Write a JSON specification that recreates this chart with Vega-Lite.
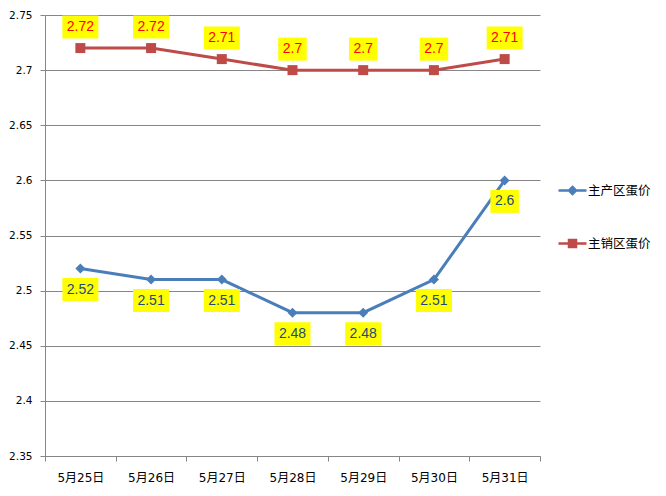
{
  "$schema": "https://vega.github.io/schema/vega-lite/v6.json",
  "width": 495,
  "height": 441,
  "autosize": {"type": "none"},
  "padding": {"left": 45, "top": 15, "right": 126, "bottom": 40},
  "background": "white",
  "config": {
    "view": {"stroke": null},
    "axis": {
      "domainColor": "#868686",
      "tickColor": "#868686",
      "gridColor": "#868686",
      "labelColor": "#000000",
      "tickSize": 5,
      "title": null
    }
  },
  "data": {
    "values": [
      {"date": "5月25日", "series": "主产区蛋价", "value": 2.52},
      {"date": "5月26日", "series": "主产区蛋价", "value": 2.51},
      {"date": "5月27日", "series": "主产区蛋价", "value": 2.51},
      {"date": "5月28日", "series": "主产区蛋价", "value": 2.48},
      {"date": "5月29日", "series": "主产区蛋价", "value": 2.48},
      {"date": "5月30日", "series": "主产区蛋价", "value": 2.51},
      {"date": "5月31日", "series": "主产区蛋价", "value": 2.6},
      {"date": "5月25日", "series": "主销区蛋价", "value": 2.72},
      {"date": "5月26日", "series": "主销区蛋价", "value": 2.72},
      {"date": "5月27日", "series": "主销区蛋价", "value": 2.71},
      {"date": "5月28日", "series": "主销区蛋价", "value": 2.7},
      {"date": "5月29日", "series": "主销区蛋价", "value": 2.7},
      {"date": "5月30日", "series": "主销区蛋价", "value": 2.7},
      {"date": "5月31日", "series": "主销区蛋价", "value": 2.71}
    ]
  },
  "encoding": {
    "x": {
      "field": "date",
      "type": "ordinal",
      "sort": null,
      "scale": {"type": "band", "paddingInner": 0, "paddingOuter": 0},
      "axis": {
        "labelAngle": 0,
        "tickBand": "extent",
        "labelFont": "DejaVu Sans, Noto Sans CJK SC",
        "labelFontSize": 12,
        "labelPadding": 11,
        "grid": false
      }
    },
    "y": {
      "field": "value",
      "type": "quantitative",
      "scale": {"domain": [2.35, 2.75], "nice": false, "zero": false},
      "axis": {
        "values": [2.35, 2.4, 2.45, 2.5, 2.55, 2.6, 2.65, 2.7, 2.75],
        "format": "~g",
        "labelFont": "DejaVu Sans",
        "labelFontSize": 10.5,
        "labelPadding": 8,
        "grid": true
      }
    },
    "color": {
      "field": "series",
      "type": "nominal",
      "scale": {"domain": ["主产区蛋价", "主销区蛋价"], "range": ["#4A7EBB", "#BE4B48"]},
      "legend": {
        "orient": "none",
        "legendX": 512,
        "legendY": 160,
        "title": null,
        "padding": 0,
        "symbolSize": 784,
        "rowPadding": 29,
        "labelOffset": 0,
        "labelFont": "Noto Sans CJK SC",
        "labelFontSize": 12.5,
        "labelColor": "#000000",
        "encode": {
          "symbols": {
            "update": {
              "fill": {"scale": "color", "field": "value"},
              "stroke": {"scale": "color", "field": "value"},
              "strokeWidth": {"value": 2.5},
              "opacity": {"value": 1},
              "fillOpacity": {"value": 1},
              "strokeOpacity": {"value": 1},
              "size": {"value": 784}
            }
          }
        }
      }
    }
  },
  "layer": [
    {
      "mark": {"type": "line", "strokeWidth": 3},
      "encoding": {}
    },
    {
      "transform": [{"filter": "datum.series == '主产区蛋价'"}],
      "mark": {"type": "point", "shape": "diamond", "size": 100, "filled": true, "opacity": 1}
    },
    {
      "transform": [{"filter": "datum.series == '主销区蛋价'"}],
      "mark": {"type": "point", "shape": "square", "size": 100, "filled": true, "opacity": 1}
    },
    {
      "transform": [{"filter": "datum.series == '主销区蛋价'"}],
      "mark": {"type": "point", "filled": true, "opacity": 1, "fill": "#FFFF00", "yOffset": -21},
      "encoding": {
        "color": {"value": "#FFFF00"},
        "shape": {
          "condition": {"test": "round(datum.value*100) % 10 == 0", "value": "M-1,-0.807H1V0.807H-1Z"},
          "value": "M-1,-0.639H1V0.639H-1Z"
        },
        "size": {
          "condition": {"test": "round(datum.value*100) % 10 == 0", "value": 812},
          "value": 1296
        }
      }
    },
    {
      "transform": [{"filter": "datum.series == '主产区蛋价'"}],
      "mark": {"type": "point", "filled": true, "opacity": 1, "fill": "#FFFF00", "yOffset": 21},
      "encoding": {
        "color": {"value": "#FFFF00"},
        "shape": {
          "condition": {"test": "round(datum.value*100) % 10 == 0", "value": "M-1,-0.807H1V0.807H-1Z"},
          "value": "M-1,-0.639H1V0.639H-1Z"
        },
        "size": {
          "condition": {"test": "round(datum.value*100) % 10 == 0", "value": 812},
          "value": 1296
        }
      }
    },
    {
      "transform": [{"filter": "datum.series == '主销区蛋价'"}],
      "mark": {"type": "text", "yOffset": -21, "font": "Liberation Sans", "fontSize": 14, "baseline": "middle", "align": "center"},
      "encoding": {
        "text": {"field": "value", "type": "quantitative"},
        "color": {"value": "#FF0000"}
      }
    },
    {
      "transform": [{"filter": "datum.series == '主产区蛋价'"}],
      "mark": {"type": "text", "yOffset": 21, "font": "Liberation Sans", "fontSize": 14, "baseline": "middle", "align": "center"},
      "encoding": {
        "text": {"field": "value", "type": "quantitative"},
        "color": {"value": "#1F497D"}
      }
    },
    {
      "mark": {"type": "point", "filled": true, "opacity": 0, "size": 784},
      "encoding": {
        "shape": {
          "field": "series",
          "type": "nominal",
          "scale": {
            "domain": ["主产区蛋价", "主销区蛋价"],
            "range": ["M-1,0H1M0,-0.25L0.25,0L0,0.25L-0.25,0Z", "M-1,0H1M-0.25,-0.25H0.25V0.25H-0.25Z"]
          }
        }
      }
    }
  ]
}
